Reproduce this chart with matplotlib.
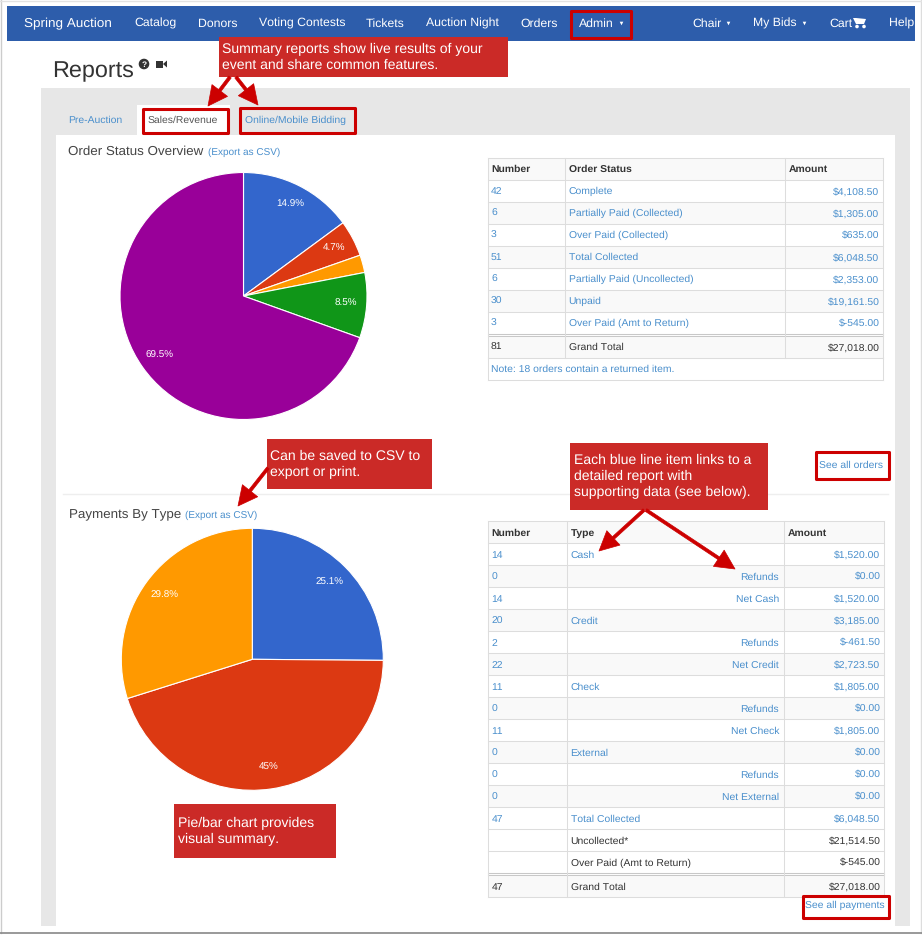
#!/usr/bin/env python3
"""Auction reports page: two pie charts with tables and red callouts."""
import matplotlib
matplotlib.use("Agg")
import matplotlib.pyplot as plt
from matplotlib.patches import Rectangle, Circle

W, H = 922, 935
SANS = "Liberation Sans"
LINK = "#4a8fcc"
DARK = "#333333"
NAVY = "#2d5dab"
RED_BOX = "#cb2a27"
RED_LINE = "#cc0000"
GRID = "#dddddd"
PIE_COLORS = ["#3366cc", "#dc3912", "#ff9900", "#109618", "#990099"]

# Order status table
order_numbers = ["42", "6", "3", "51", "6", "30", "3"]
order_labels = ["Complete", "Partially Paid (Collected)", "Over Paid (Collected)", "Total Collected",
                "Partially Paid (Uncollected)", "Unpaid", "Over Paid (Amt to Return)"]
order_amounts = ["$4,108.50", "$1,305.00", "$635.00", "$6,048.50", "$2,353.00", "$19,161.50", "$-545.00"]

# Pie values are the dollar amounts of the table rows
order_pie_values = [4108.5, 1305.0, 635.0, 2353.0, 19161.5]
payment_pie_values = [1520.0, 2723.5, 1805.0]

# Payments table
pay_numbers = ["14", "0", "14", "20", "2", "22", "11", "0", "11", "0", "0", "0", "47", "", ""]
pay_labels = ["Cash", "Refunds", "Net Cash", "Credit", "Refunds", "Net Credit", "Check", "Refunds",
              "Net Check", "External", "Refunds", "Net External", "Total Collected", "Uncollected*",
              "Over Paid (Amt to Return)"]
pay_amounts = ["$1,520.00", "$0.00", "$1,520.00", "$3,185.00", "$-461.50", "$2,723.50", "$1,805.00", "$0.00",
               "$1,805.00", "$0.00", "$0.00", "$0.00", "$6,048.50", "$21,514.50", "$-545.00"]
pay_right_aligned = {"Refunds", "Net Cash", "Net Credit", "Net Check", "Net External"}

nav_left = [("Catalog", 134), ("Donors", 198), ("Voting Contests", 259),
            ("Tickets", 366), ("Auction Night", 426), ("Orders", 520), ("Admin", 579)]
nav_right = [("Chair", 692), ("My Bids", 753), ("Cart", 829), ("Help", 889)]

plt.rcParams["font.family"] = [SANS, "DejaVu Sans"]
plt.rcParams["text.hinting"] = "none"
plt.rcParams["text.kerning_factor"] = 6
fig = plt.figure(figsize=(W / 100, H / 100), dpi=100)
ax = fig.add_axes([0, 0, 1, 1])
ax.set_xlim(0, W)
ax.set_ylim(H, 0)
ax.axis("off")


def box(x0, y0, x1, y1, color, zorder=1):
    ax.add_patch(Rectangle((x0, y0), x1 - x0, y1 - y0, facecolor=color, edgecolor="none", zorder=zorder))


def outline(x0, y0, x1, y1):
    ax.add_patch(Rectangle((x0, y0), x1 - x0, y1 - y0, facecolor="none", edgecolor=RED_LINE, lw=2.2, zorder=8,
                           joinstyle="round"))


def label(x, y, s, size=7.5, color=DARK, ha="left", weight="normal", zorder=5):
    # baseline placement keeps all the text of a row on one line
    return ax.text(x, y + 0.5 * size, s, fontsize=size, color=color, ha=ha, va="baseline", fontweight=weight,
                   zorder=zorder)


def arrow(start, tip):
    ax.annotate("", xy=tip, xytext=start, zorder=9,
                arrowprops=dict(facecolor=RED_LINE, edgecolor=RED_LINE, width=2.2, headwidth=14, headlength=14,
                                shrink=0, lw=0.5))


def callout(x0, y0, x1, y1, lines, text_x, first_y):
    box(x0, y0, x1, y1, RED_BOX, zorder=7)
    for i, line in enumerate(lines):
        label(text_x, first_y + i * 16, line, size=10.1, color="white", zorder=10)


def hline(x0, x1, y, color=GRID):
    ax.plot([x0, x1], [y, y], color=color, lw=0.75, zorder=3)


def vline(x, y0, y1):
    ax.plot([x, x], [y0, y1], color=GRID, lw=0.75, zorder=3)


def table(x, y_head, heads, numbers, labels, amounts, stripe_last=11):
    """Draw one table, return the places needed for its total row."""
    left, c1, c2, right = x
    rows = len(numbers)
    y_end = y_head + 22 * (rows + 1)
    total_end = y_end + 24
    box(left, y_head, right, y_head + 22, "#f9f9f9", 2)
    box(left, y_end + 2, right, total_end, "#f9f9f9", 2)
    for i in range(rows):
        top = y_head + 22 * (i + 1)
        if i % 2 == 1 and i <= stripe_last:
            box(left, top, right, top + 22, "#f9f9f9", 2)
        hline(left, right, top)
        cy = top + 11
        plain = numbers[i] == ""
        col = DARK if plain else LINK
        label(left + 3.5, cy, numbers[i], color=LINK)
        if labels[i] in pay_right_aligned:
            label(c2 - 4.5, cy, labels[i], color=col, ha="right")
        else:
            label(c1 + 4, cy, labels[i], color=col)
        label(right - 3.5, cy, amounts[i], color=col, ha="right")
    hline(left, right, y_head)
    hline(left, right, y_end, "#c8c8c8")
    hline(left, right, y_end + 2, "#c8c8c8")
    hline(left, right, total_end)
    for xv in (left, c1, c2, right):
        vline(xv, y_head, total_end)
    cy = y_head + 11
    label(left + 3.5, cy, heads[0], weight="bold")
    label(c1 + 4, cy, heads[1], weight="bold")
    label(c2 + 4, cy, heads[2], weight="bold")
    return left, c1, right, y_end + 13, total_end


def pie_pct(pct):
    if pct < 3:
        return ""
    return f"{round(pct, 1):g}%"


def pie(values, cx, cy, r):
    pie_ax = fig.add_axes([(cx - r - 2) / W, 1 - (cy + r + 2) / H, (2 * r + 4) / W, (2 * r + 4) / H])
    pie_ax.pie(values, colors=PIE_COLORS[:3] if len(values) == 3 else PIE_COLORS,
               startangle=90, counterclock=False, radius=r / (r + 2), autopct=pie_pct, pctdistance=0.83,
               wedgeprops=dict(edgecolor="white", linewidth=0.8),
               textprops=dict(color="white", fontsize=7.1))
    pie_ax.set_xlim(-1, 1)
    pie_ax.set_ylim(-1, 1)


# page frame
ax.plot([1, 1], [0, 933], color="#cccccc", lw=1, zorder=0)
ax.plot([920.5, 920.5], [0, 933], color="#dddddd", lw=1, zorder=0)
ax.plot([0, W], [932.5, 932.5], color="#888888", lw=1.2, zorder=0)
ax.plot([0, W], [1, 1], color="#e2e2e2", lw=1, zorder=0)

# navbar
box(7, 6, 915, 41, NAVY)
label(24, 22, "Spring Auction", size=9.7, color="white")
for s, x in nav_left + nav_right:
    t = label(x, 22, s, size=8.8, color="white")
    t.set_clip_path(Rectangle((7, 6), 908, 35, transform=ax.transData))
for x in (621, 728, 804):
    ax.plot([x], [23], marker="v", ms=2.6, color="white", mec="none", zorder=5)
ax.fill([853, 856, 866, 864, 856], [18, 18, 19, 24, 24], color="white", lw=0, zorder=5)
ax.add_patch(Circle((857, 26.5), 1.1, color="white", zorder=5))
ax.add_patch(Circle((864, 26.5), 1.1, color="white", zorder=5))
outline(570.5, 11, 631, 38)

# heading
label(52, 68.5, "Reports", size=16.8)
ax.add_patch(Circle((144, 64), 4.6, color="#333333", zorder=5))
label(144, 64, "?", size=6, color="white", ha="center", weight="bold", zorder=6)
box(155.5, 60.5, 163, 67.5, "#333333", 5)
ax.fill([163, 167, 167], [64, 60.5, 67.5], color="#333333", lw=0, zorder=5)

# grey panel, tabs, white content
box(41, 88, 910, 926, "#e7e7e7")
box(56, 135, 895, 926, "white")
box(137, 105, 230, 135, "white")
label(68, 119, "Pre-Auction", color=LINK)
label(148, 119, "Sales/Revenue", color="#555555")
label(245, 119, "Online/Mobile Bidding", color=LINK)
outline(142.5, 109, 227.5, 133)
outline(239.5, 107.5, 354.5, 132.5)

# first section
label(68, 150, "Order Status Overview", size=9.6, color="#444444")
label(208, 151, "(Export as CSV)", size=7.2, color=LINK)
pie(order_pie_values, 243.5, 296, 123.5)
left, c1, right, cy, end = table((487.5, 564.5, 784.5, 883), 157.5, ["Number", "Order Status", "Amount"],
                                 order_numbers, order_labels, order_amounts)
label(left + 3.5, cy, "81")
label(c1 + 4, cy, "Grand Total")
label(right - 3.5, cy, "$27,018.00", ha="right")
label(left + 3.5, end + 11, "Note: 18 orders contain a returned item.", color=LINK)
vline(left, end, end + 22)
vline(right, end, end + 22)
hline(left, right, end + 22)
label(819, 464, "See all orders", color=LINK)
outline(816, 452, 889, 478.5)

# second section
ax.plot([63, 888], [494, 494], color="#eeeeee", lw=1, zorder=2)
label(68.5, 513.5, "Payments By Type", size=9.6, color="#444444")
label(185, 514.5, "(Export as CSV)", size=7.2, color=LINK)
pie(payment_pie_values, 252.3, 659.3, 131)
left, c1, right, cy, end = table((488, 566.5, 783.5, 884), 521, ["Number", "Type", "Amount"],
                                 pay_numbers, pay_labels, pay_amounts)
label(left + 3.5, cy, "47")
label(c1 + 4, cy, "Grand Total")
label(right - 3.5, cy, "$27,018.00", ha="right")
label(804.5, 904, "See all payments", color=LINK)
outline(802.5, 895.5, 889, 917.5)

# callouts
callout(219, 37, 508, 77, ["Summary reports show live results of your", "event and share common features."], 222, 48)
callout(267, 439, 432, 489, ["Can be saved to CSV to", "export or print."], 270, 455)
callout(570, 443, 768, 510, ["Each blue line item links to a", "detailed report with", "supporting data (see below)."], 574, 459)
callout(174, 804, 336, 858, ["Pie/bar chart provides", "visual summary."], 178, 822)
arrow((230, 77), (208, 106))
arrow((236, 77), (258, 105))
arrow((268, 468), (238, 506))
arrow((644, 510), (599, 551))
arrow((646, 510), (735, 569))

fig.savefig("out.png", dpi=100, facecolor="white")
